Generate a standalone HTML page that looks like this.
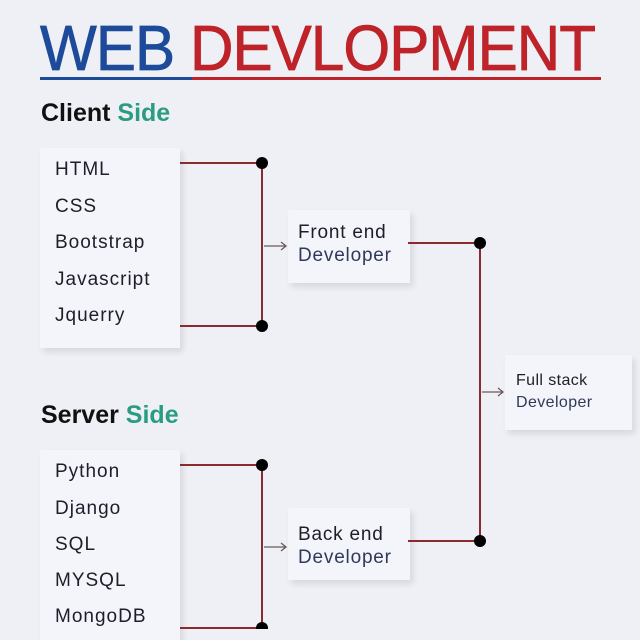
<!DOCTYPE html>
<html><head><meta charset="utf-8"><style>
html,body{margin:0;padding:0}
body{width:640px;height:629px;background:#eef0f6;position:relative;overflow:hidden;font-family:"Liberation Sans",sans-serif}
.a{position:absolute;white-space:nowrap}
.box{position:absolute;background:#f3f5fa;box-shadow:3px 4px 6px rgba(0,0,0,0.10)}
.it{position:absolute;left:55px;font-size:19px;color:#1c1f2a;letter-spacing:1px}
.dv{position:absolute;font-size:19px;letter-spacing:0.8px}
</style></head><body>
<div class="a" style="left:40px;top:12px;font-size:64px;line-height:72px;letter-spacing:-1px;transform:scaleX(0.94);transform-origin:0 0;-webkit-text-stroke:0.8px currentColor"><span style="color:#1d4b9a">WEB</span> <span style="color:#bd2328">DEVLOPMENT</span></div>
<div class="a" style="left:40px;top:77px;width:152px;height:3px;background:#1d4b9a"></div>
<div class="a" style="left:192px;top:77px;width:409px;height:3px;background:#bd2328"></div>
<div class="a" style="left:41px;top:99px;font-size:25px;font-weight:bold;color:#111">Client <span style="color:#2a9c82">Side</span></div>
<div class="a" style="left:41px;top:401px;font-size:25px;font-weight:bold;color:#111">Server <span style="color:#2a9c82">Side</span></div>

<div class="box" style="left:40px;top:148px;width:140px;height:200px"></div>
<div class="it" style="top:159px">HTML</div>
<div class="it" style="top:196px">CSS</div>
<div class="it" style="top:232px">Bootstrap</div>
<div class="it" style="top:269px">Javascript</div>
<div class="it" style="top:305px">Jquerry</div>

<div class="box" style="left:40px;top:450px;width:140px;height:190px"></div>
<div class="it" style="top:461px">Python</div>
<div class="it" style="top:498px">Django</div>
<div class="it" style="top:534px">SQL</div>
<div class="it" style="top:570px">MYSQL</div>
<div class="it" style="top:606px">MongoDB</div>

<div class="box" style="left:288px;top:210px;width:122px;height:73px"></div>
<div class="dv" style="left:298px;top:222px;color:#1c1f2a">Front end</div>
<div class="dv" style="left:298px;top:245px;color:#2d3a5a">Developer</div>

<div class="box" style="left:288px;top:508px;width:122px;height:72px"></div>
<div class="dv" style="left:298px;top:524px;color:#1c1f2a">Back end</div>
<div class="dv" style="left:298px;top:547px;color:#2d3a5a">Developer</div>

<div class="box" style="left:505px;top:355px;width:127px;height:75px"></div>
<div class="a" style="left:516px;top:372px;font-size:16px;letter-spacing:0.4px;color:#1c1f2a">Full stack</div>
<div class="a" style="left:516px;top:394px;font-size:16px;letter-spacing:0.4px;color:#2d3a5a">Developer</div>

<svg class="a" style="left:0;top:0" width="640" height="629">
<g stroke="#8a2a2e" stroke-width="2" fill="none">
<path d="M180 163H262V326H180"/>
<path d="M180 465H262V640"/>
<path d="M180 628H262"/>
<path d="M408 243H480V541H408"/>
</g>
<g stroke="#6a5a5a" stroke-width="1.3" fill="none">
<path d="M264 246H286M281 242L286 246L281 250"/>
<path d="M264 547H286M281 543L286 547L281 551"/>
<path d="M482 392H503M498 388L503 392L498 396"/>
</g>
<g fill="#000">
<circle cx="262" cy="163" r="6"/><circle cx="262" cy="326" r="6"/>
<circle cx="262" cy="465" r="6"/><circle cx="262" cy="628" r="6"/>
<circle cx="480" cy="243" r="6"/><circle cx="480" cy="541" r="6"/>
</g>
</svg>
</body></html>
